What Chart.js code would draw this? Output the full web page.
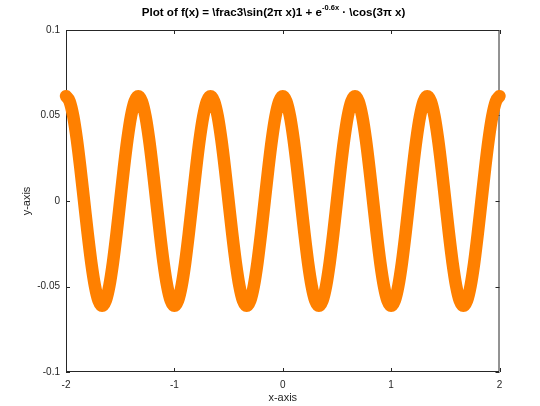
<!DOCTYPE html>
<html>
<head>
<meta charset="utf-8">
<script src="https://cdn.jsdelivr.net/npm/chart.js@4.4.1/dist/chart.umd.min.js"></script>
<style>
html,body{margin:0;padding:0;background:#fff;}
#wrap{width:540px;height:406px;}
</style>
</head>
<body>
<div id="wrap"><canvas id="c" width="540" height="406"></canvas></div>
<script>
// ---- data ----
const xValues = [
 -2,-1.9667,-1.9333,-1.9,-1.8667,-1.8333,-1.8,-1.7667,-1.7333,-1.7,
 -1.6667,-1.6333,-1.6,-1.5667,-1.5333,-1.5,-1.4667,-1.4333,-1.4,-1.3667,
 -1.3333,-1.3,-1.2667,-1.2333,-1.2,-1.1667,-1.1333,-1.1,-1.0667,-1.0333,
 -1,-0.9667,-0.9333,-0.9,-0.8667,-0.8333,-0.8,-0.7667,-0.7333,-0.7,
 -0.6667,-0.6333,-0.6,-0.5667,-0.5333,-0.5,-0.4667,-0.4333,-0.4,-0.3667,
 -0.3333,-0.3,-0.2667,-0.2333,-0.2,-0.1667,-0.1333,-0.1,-0.0667,-0.0333,
 0,0.0333,0.0667,0.1,0.1333,0.1667,0.2,0.2333,0.2667,0.3,
 0.3333,0.3667,0.4,0.4333,0.4667,0.5,0.5333,0.5667,0.6,0.6333,
 0.6667,0.7,0.7333,0.7667,0.8,0.8333,0.8667,0.9,0.9333,0.9667,
 1,1.0333,1.0667,1.1,1.1333,1.1667,1.2,1.2333,1.2667,1.3,
 1.3333,1.3667,1.4,1.4333,1.4667,1.5,1.5333,1.5667,1.6,1.6333,
 1.6667,1.7,1.7333,1.7667,1.8,1.8333,1.8667,1.9,1.9333,1.9667,
 2
];
const yValues = [
 0.0613,0.0583,0.0496,0.0360,0.0189,0,-0.0189,-0.0360,-0.0496,-0.0583,
 -0.0613,-0.0583,-0.0496,-0.0360,-0.0189,0,0.0189,0.0360,0.0496,0.0583,
 0.0613,0.0583,0.0496,0.0360,0.0189,0,-0.0189,-0.0360,-0.0496,-0.0583,
 -0.0613,-0.0583,-0.0496,-0.0360,-0.0189,0,0.0189,0.0360,0.0496,0.0583,
 0.0613,0.0583,0.0496,0.0360,0.0189,0,-0.0189,-0.0360,-0.0496,-0.0583,
 -0.0613,-0.0583,-0.0496,-0.0360,-0.0189,0,0.0189,0.0360,0.0496,0.0583,
 0.0613,0.0583,0.0496,0.0360,0.0189,0,-0.0189,-0.0360,-0.0496,-0.0583,
 -0.0613,-0.0583,-0.0496,-0.0360,-0.0189,0,0.0189,0.0360,0.0496,0.0583,
 0.0613,0.0583,0.0496,0.0360,0.0189,0,-0.0189,-0.0360,-0.0496,-0.0583,
 -0.0613,-0.0583,-0.0496,-0.0360,-0.0189,0,0.0189,0.0360,0.0496,0.0583,
 0.0613,0.0583,0.0496,0.0360,0.0189,0,-0.0189,-0.0360,-0.0496,-0.0583,
 -0.0613,-0.0583,-0.0496,-0.0360,-0.0189,0,0.0189,0.0360,0.0496,0.0583,
 0.0613
];
const xTickValues = [-2,-1,0,1,2];
const xTickLabels = ['-2','-1','0','1','2'];
const yTickValues = [-0.1,-0.05,0,0.05,0.1];
const yTickLabels = ['-0.1','-0.05','0','0.05','0.1'];
const titleParts = ['Plot of f(x) = \\frac3\\sin(2\u03c0 x)1 + e', '-0.6x', ' \u00b7 \\cos(3\u03c0 x)'];
const xLabel = 'x-axis';
const yLabel = 'y-axis';

const FONT = "'Liberation Sans', Arial, Helvetica, sans-serif";
const AXIS_COLOR = '#262626';

const points = xValues.map((x, i) => ({x: x, y: yValues[i]}));

const boxPlugin = {
  id: 'box',
  beforeDatasetsDraw(chart) {
    const ctx = chart.ctx, a = chart.chartArea;
    const xs = chart.scales.x, ys = chart.scales.y;
    ctx.save();
    ctx.strokeStyle = AXIS_COLOR;
    ctx.lineWidth = 1;
    ctx.beginPath();
    ctx.rect(a.left + 0.5, a.top + 0.5, a.right - a.left - 1, a.bottom - a.top - 1);
    ctx.stroke();
    ctx.beginPath();
    xTickValues.forEach(v => {
      const px = Math.round(xs.getPixelForValue(v)) + 0.5;
      ctx.moveTo(px, a.bottom); ctx.lineTo(px, a.bottom - 4);
      ctx.moveTo(px, a.top); ctx.lineTo(px, a.top + 4);
    });
    yTickValues.forEach(v => {
      const py = Math.round(ys.getPixelForValue(v)) + 0.5;
      ctx.moveTo(a.left, py); ctx.lineTo(a.left + 4, py);
      ctx.moveTo(a.right, py); ctx.lineTo(a.right - 4, py);
    });
    ctx.stroke();
    ctx.restore();
  },
  afterDraw(chart) {
    const ctx = chart.ctx;
    ctx.save();
    ctx.fillStyle = '#000';
    ctx.textBaseline = 'middle';
    const big = "bold 11.6px " + FONT, small = "bold 7.5px " + FONT;
    ctx.font = big; const w0 = ctx.measureText(titleParts[0]).width;
    ctx.font = small; const w1 = ctx.measureText(titleParts[1]).width;
    ctx.font = big; const w2 = ctx.measureText(titleParts[2]).width;
    let x = 273.5 - (w0 + w1 + w2) / 2;
    const y = 13;
    ctx.font = big; ctx.fillText(titleParts[0], x, y); x += w0;
    ctx.font = small; ctx.fillText(titleParts[1], x, y - 5); x += w1;
    ctx.font = big; ctx.fillText(titleParts[2], x, y);
    ctx.restore();
  }
};

new Chart(document.getElementById('c'), {
  type: 'line',
  data: {
    datasets: [{
      data: points,
      borderColor: '#ff8000',
      backgroundColor: '#ff8000',
      borderWidth: 12.5,
      borderCapStyle: 'round',
      borderJoinStyle: 'round',
      cubicInterpolationMode: 'monotone',
      pointRadius: 0,
      fill: false,
      clip: false
    }]
  },
  options: {
    responsive: false,
    animation: false,
    devicePixelRatio: 1,
    layout: {padding: {left: 0, right: 40.5, top: 30, bottom: 0}},
    plugins: {legend: {display: false}, tooltip: {enabled: false}, title: {display: false}},
    scales: {
      x: {
        type: 'linear', min: -2, max: 2,
        grid: {display: false, drawTicks: false},
        border: {display: false},
        afterFit(s) { s.height = 34; },
        afterBuildTicks(s) { s.ticks = xTickValues.map(v => ({value: v})); },
        ticks: {
          color: AXIS_COLOR, padding: 7, maxRotation: 0,
          font: {family: FONT, size: 10},
          callback: (v) => { const i = xTickValues.indexOf(v); return i >= 0 ? xTickLabels[i] : ''; }
        },
        title: {display: true, text: xLabel, color: AXIS_COLOR, font: {family: FONT, size: 11}, padding: 1}
      },
      y: {
        type: 'linear', min: -0.1, max: 0.1,
        grid: {display: false, drawTicks: false},
        border: {display: false},
        afterFit(s) { s.width = 66; },
        afterBuildTicks(s) { s.ticks = yTickValues.map(v => ({value: v})); },
        ticks: {
          color: AXIS_COLOR, padding: 6,
          font: {family: FONT, size: 10},
          callback: (v) => { const i = yTickValues.findIndex(t => Math.abs(t - v) < 1e-9); return i >= 0 ? yTickLabels[i] : ''; }
        },
        title: {display: true, text: yLabel, color: AXIS_COLOR, font: {family: FONT, size: 11}, padding: 20}
      }
    }
  },
  plugins: [boxPlugin]
});
</script>
</body>
</html>
